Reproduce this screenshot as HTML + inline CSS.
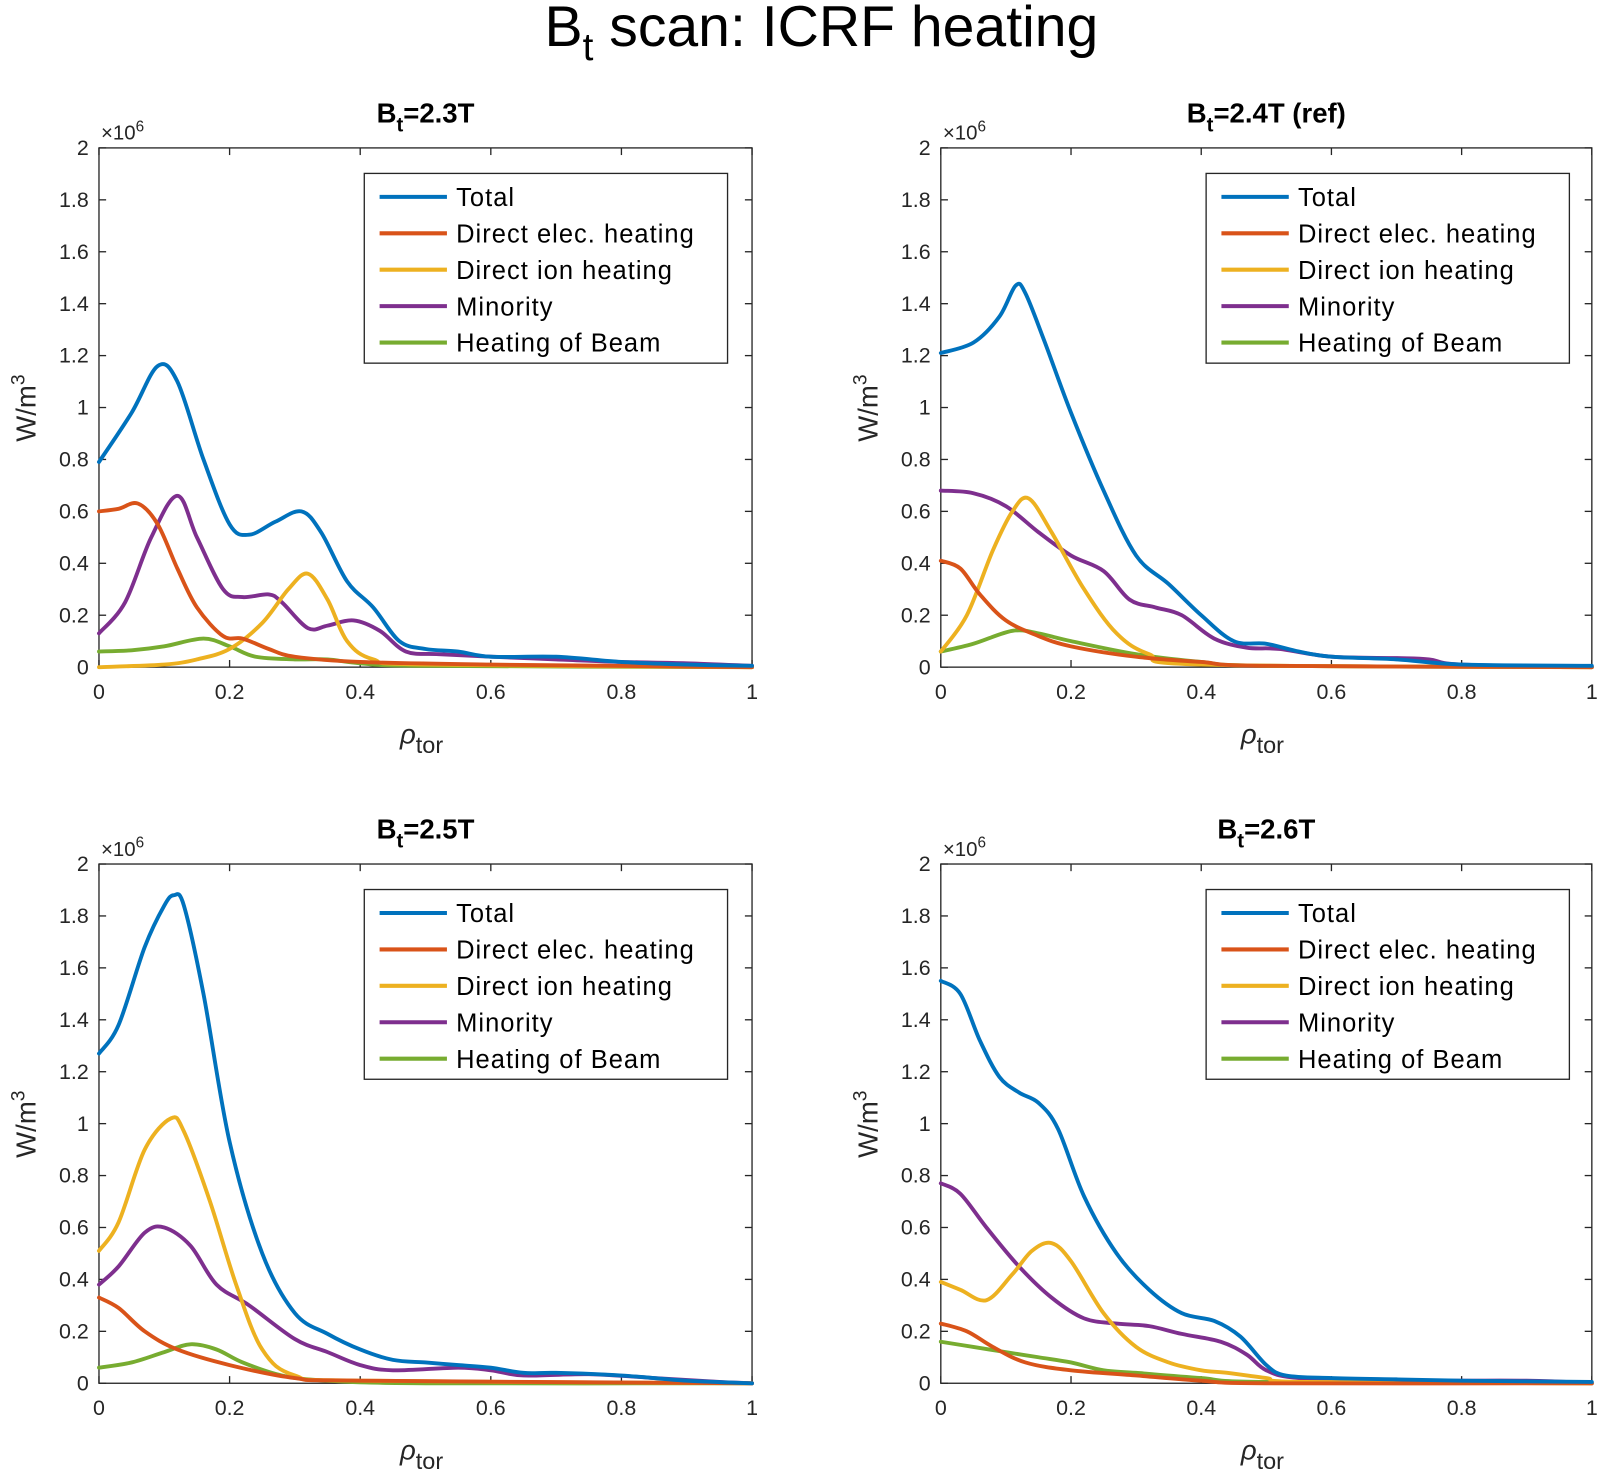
<!DOCTYPE html>
<html><head><meta charset="utf-8">
<style>
html,body{margin:0;padding:0;background:#fff;}
svg{display:block;font-family:"Liberation Sans","DejaVu Sans",sans-serif;}
</style></head>
<body>
<svg id="s" width="1600" height="1472" viewBox="0 0 1568 1443" preserveAspectRatio="none" xmlns="http://www.w3.org/2000/svg">
<text x="805" y="45" font-size="56" text-anchor="middle" fill="#000">B<tspan font-size="38" dy="14">t</tspan><tspan dy="-14"> scan: ICRF heating</tspan></text>
</svg>
<script>
const C=["#0072BD","#D95319","#EDB120","#7E2F8E","#77AC30"];
const names=["Total","Direct elec. heating","Direct ion heating","Minority","Heating of Beam"];
const panels=[
{x0:97,x1:737,y0:654,y2:145,t:"=2.3T",d:[
[[0,0.79],[0.05,0.98],[0.09,1.16],[0.12,1.1],[0.16,0.8],[0.2,0.55],[0.23,0.51],[0.27,0.56],[0.31,0.6],[0.34,0.52],[0.38,0.33],[0.42,0.23],[0.46,0.1],[0.5,0.07],[0.55,0.06],[0.6,0.04],[0.7,0.04],[0.8,0.02],[0.9,0.01],[1,0.005]],
[[0,0.6],[0.03,0.61],[0.06,0.63],[0.09,0.55],[0.12,0.38],[0.15,0.23],[0.19,0.12],[0.22,0.11],[0.26,0.07],[0.3,0.04],[0.4,0.02],[0.6,0.01],[1,0]],
[[0,0],[0.1,0.01],[0.15,0.03],[0.2,0.07],[0.25,0.17],[0.29,0.3],[0.32,0.36],[0.35,0.26],[0.38,0.1],[0.42,0.03],[0.5,0.01],[1,0]],
[[0,0.13],[0.04,0.25],[0.08,0.5],[0.12,0.66],[0.15,0.5],[0.19,0.3],[0.22,0.27],[0.26,0.28],[0.28,0.25],[0.32,0.15],[0.35,0.16],[0.39,0.18],[0.43,0.14],[0.47,0.06],[0.52,0.05],[0.6,0.04],[0.7,0.03],[0.8,0.02],[0.9,0.015],[1,0.005]],
[[0,0.06],[0.05,0.065],[0.1,0.08],[0.16,0.11],[0.2,0.08],[0.24,0.04],[0.3,0.03],[0.35,0.03],[0.4,0.015],[0.5,0.005],[1,0]]]},
{x0:922,x1:1560,y0:654,y2:145,t:"=2.4T (ref)",d:[
[[0,1.21],[0.05,1.25],[0.09,1.35],[0.115,1.47],[0.13,1.44],[0.16,1.25],[0.2,0.98],[0.25,0.68],[0.3,0.43],[0.35,0.32],[0.4,0.2],[0.45,0.1],[0.5,0.09],[0.55,0.06],[0.6,0.04],[0.7,0.03],[0.8,0.01],[1,0.005]],
[[0,0.41],[0.03,0.38],[0.06,0.28],[0.1,0.18],[0.15,0.12],[0.2,0.08],[0.3,0.04],[0.4,0.02],[0.5,0.005],[1,0]],
[[0,0.06],[0.04,0.2],[0.08,0.45],[0.11,0.6],[0.135,0.65],[0.17,0.52],[0.22,0.3],[0.27,0.13],[0.32,0.05],[0.4,0.01],[1,0]],
[[0,0.68],[0.05,0.67],[0.1,0.62],[0.15,0.52],[0.2,0.43],[0.25,0.37],[0.29,0.26],[0.33,0.23],[0.37,0.2],[0.42,0.11],[0.47,0.075],[0.52,0.07],[0.6,0.04],[0.7,0.035],[0.75,0.03],[0.8,0.01],[1,0]],
[[0,0.06],[0.05,0.09],[0.11,0.14],[0.15,0.13],[0.2,0.1],[0.3,0.05],[0.4,0.02],[0.5,0.005],[1,0]]]},
{x0:97,x1:737,y0:1356,y2:847,t:"=2.5T",d:[
[[0,1.27],[0.03,1.38],[0.07,1.68],[0.1,1.84],[0.115,1.88],[0.13,1.84],[0.16,1.5],[0.2,0.93],[0.25,0.5],[0.3,0.27],[0.35,0.19],[0.4,0.13],[0.45,0.09],[0.5,0.08],[0.55,0.07],[0.6,0.06],[0.65,0.04],[0.7,0.04],[0.8,0.03],[0.9,0.01],[1,0]],
[[0,0.33],[0.03,0.29],[0.07,0.2],[0.12,0.13],[0.2,0.07],[0.3,0.02],[0.4,0.01],[1,0]],
[[0,0.51],[0.03,0.62],[0.07,0.9],[0.11,1.02],[0.13,0.97],[0.17,0.7],[0.21,0.38],[0.25,0.13],[0.3,0.03],[0.4,0.01],[1,0]],
[[0,0.38],[0.03,0.45],[0.07,0.58],[0.1,0.6],[0.14,0.53],[0.18,0.38],[0.23,0.3],[0.3,0.17],[0.35,0.12],[0.4,0.07],[0.45,0.05],[0.55,0.06],[0.6,0.05],[0.65,0.03],[0.75,0.035],[0.85,0.02],[0.95,0.005],[1,0]],
[[0,0.06],[0.05,0.08],[0.1,0.12],[0.14,0.15],[0.18,0.13],[0.22,0.08],[0.28,0.03],[0.35,0.01],[0.5,0],[1,0]]]},
{x0:922,x1:1560,y0:1356,y2:847,t:"=2.6T",d:[
[[0,1.55],[0.03,1.5],[0.06,1.32],[0.09,1.18],[0.12,1.12],[0.15,1.08],[0.18,0.98],[0.22,0.72],[0.27,0.5],[0.32,0.36],[0.37,0.27],[0.42,0.24],[0.46,0.18],[0.5,0.07],[0.53,0.03],[0.6,0.02],[0.7,0.015],[0.8,0.01],[1,0.005]],
[[0,0.23],[0.04,0.2],[0.08,0.14],[0.13,0.08],[0.2,0.05],[0.3,0.03],[0.4,0.01],[0.5,0],[1,0]],
[[0,0.39],[0.03,0.36],[0.07,0.32],[0.11,0.42],[0.14,0.51],[0.17,0.54],[0.2,0.47],[0.25,0.27],[0.3,0.14],[0.35,0.08],[0.4,0.05],[0.44,0.04],[0.5,0.02],[0.56,0.005],[1,0]],
[[0,0.77],[0.03,0.73],[0.07,0.6],[0.12,0.45],[0.17,0.33],[0.22,0.25],[0.27,0.23],[0.32,0.22],[0.37,0.19],[0.43,0.16],[0.47,0.11],[0.5,0.05],[0.55,0.02],[0.7,0.01],[0.9,0.01],[1,0]],
[[0,0.16],[0.05,0.14],[0.1,0.12],[0.15,0.1],[0.2,0.08],[0.25,0.05],[0.3,0.04],[0.4,0.02],[0.5,0.005],[1,0]]]}
];
let h="";
function path(pts){
 let d="M"+pts[0][0].toFixed(1)+","+pts[0][1].toFixed(1);
 for(let i=0;i<pts.length-1;i++){
  const p0=pts[Math.max(0,i-1)],p1=pts[i],p2=pts[i+1],p3=pts[Math.min(pts.length-1,i+2)];
  const c1=[p1[0]+(p2[0]-p0[0])/6,p1[1]+(p2[1]-p0[1])/6];
  const c2=[p2[0]-(p3[0]-p1[0])/6,p2[1]-(p3[1]-p1[1])/6];
  d+=" C"+c1.map(v=>v.toFixed(1))+" "+c2.map(v=>v.toFixed(1))+" "+p2.map(v=>v.toFixed(1));
 }
 return d;
}
for(const p of panels){
 const W=p.x1-p.x0,H=p.y0-p.y2;
 const X=v=>p.x0+v*W, Y=v=>p.y0-v/2*H;
 h+=`<rect x="${p.x0}" y="${p.y2}" width="${W}" height="${H}" fill="none" stroke="#262626" stroke-width="1.3"/>`;
 for(let i=0;i<=5;i++){const v=i*0.2,x=X(v);
  h+=`<line x1="${x}" y1="${p.y0}" x2="${x}" y2="${p.y0-7}" stroke="#262626" stroke-width="1.3"/><line x1="${x}" y1="${p.y2}" x2="${x}" y2="${p.y2+7}" stroke="#262626" stroke-width="1.3"/>`;
  h+=`<text x="${x}" y="${p.y0+31}" font-size="21" text-anchor="middle" fill="#262626">${i==0?"0":i==5?"1":v.toFixed(1)}</text>`;}
 for(let i=0;i<=10;i++){const v=i*0.2,y=Y(v);
  h+=`<line x1="${p.x0}" y1="${y}" x2="${p.x0+7}" y2="${y}" stroke="#262626" stroke-width="1.3"/><line x1="${p.x1}" y1="${y}" x2="${p.x1-7}" y2="${y}" stroke="#262626" stroke-width="1.3"/>`;
  h+=`<text x="${p.x0-10}" y="${y+7}" font-size="21" text-anchor="end" fill="#262626">${i==0?"0":i==5?"1":i==10?"2":v.toFixed(1)}</text>`;}
 h+=`<text x="${p.x0+2}" y="${p.y2-8}" font-size="20" fill="#262626">×10<tspan font-size="15" dy="-8">6</tspan></text>`;
 h+=`<text x="${p.x0+W/2}" y="${p.y2-25}" font-size="27" font-weight="bold" text-anchor="middle" fill="#000">B<tspan font-size="20" dy="9">t</tspan><tspan dy="-9">${p.t}</tspan></text>`;
 h+=`<text transform="translate(${p.x0-62},${p.y0-254}) rotate(-90)" font-size="27" text-anchor="middle" fill="#262626">W/m<tspan font-size="19" dy="-11">3</tspan></text>`;
 h+=`<text x="${p.x0+W/2-25}" y="${p.y0+75}" font-size="27" font-style="italic" fill="#262626">ρ<tspan font-style="normal" font-size="23" dy="9">tor</tspan></text>`;
 for(let k=4;k>=0;k--){
  const pts=p.d[k].map(q=>[X(q[0]),Y(q[1])]);
  h+=`<path d="${path(pts)}" fill="none" stroke="${C[k]}" stroke-width="3.8" stroke-linejoin="round" stroke-linecap="round"/>`;
 }
 const lx=p.x0+260, ly=p.y2+25;
 h+=`<rect x="${lx}" y="${ly}" width="356" height="186" fill="#fff" stroke="#262626" stroke-width="1.3"/>`;
 for(let k=0;k<5;k++){const y=ly+23+k*35.7;
  h+=`<line x1="${lx+15}" y1="${y}" x2="${lx+81}" y2="${y}" stroke="${C[k]}" stroke-width="4"/>`;
  h+=`<text x="${lx+90}" y="${y+9}" font-size="25" letter-spacing="1" fill="#000">${names[k]}</text>`;}
}
document.getElementById("s").insertAdjacentHTML("beforeend",h);
</script>
</body></html>
